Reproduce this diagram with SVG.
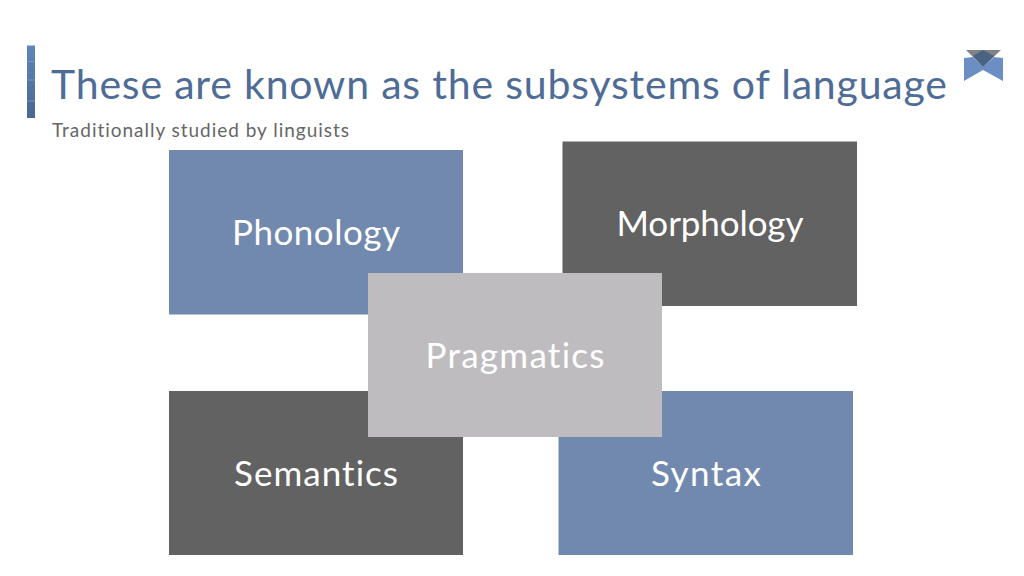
<svg xmlns="http://www.w3.org/2000/svg" width="1024" height="576" viewBox="0 0 1024 576">
<style>
text{font-family:"Lato","Open Sans","Liberation Sans",sans-serif;font-weight:400;font-variant-ligatures:none}
.lbl{font-size:35px;fill:#fff;text-anchor:middle}
.blue{fill:#7189ae}.dark{fill:#626262}.light{fill:#bfbcbf}
</style>
<defs><linearGradient id="bar" x1="0" y1="0" x2="0" y2="1"><stop offset="0" stop-color="#5f86bd"/><stop offset="1" stop-color="#4a6890"/></linearGradient></defs>
<rect width="1024" height="576" fill="#fff"/>
<g id="header">
<rect x="27" y="45.5" width="8" height="72.500" fill="url(#bar)"/>
<path d="M27 61.500h8M27 80h8M27 101h8" stroke="#86a0c4" stroke-width=".7" fill="none"/>
<text x="51" y="98.500" font-size="41" fill="#4e6c96" textLength="896" lengthAdjust="spacing">These are known as the subsystems of language</text>
<text x="52" y="137" font-size="19" fill="#666" textLength="297" lengthAdjust="spacing">Traditionally studied by linguists</text>
</g>
<g id="logo">
<polygon points="964,58 973,57 983,67 994,57 1003,58 1003,81 983,70 964,81" fill="#6b8fc4"/>
<polygon points="966,50 1001,50 983,67" fill="#7f8287"/>
<polygon points="973,56 983,50 994,56 983,67" fill="#4a6283"/>
</g>
<g id="phonology"><rect class="blue" x="169" y="150" width="294" height="164.500"/><text class="lbl" x="316" y="245" textLength="168">Phonology</text></g>
<g id="morphology"><rect class="dark" x="562.500" y="141.500" width="294.500" height="164.500"/><text class="lbl" x="710" y="236" textLength="187">Morphology</text></g>
<g id="semantics"><rect class="dark" x="169" y="391" width="294" height="164"/><text class="lbl" x="316" y="486" textLength="164">Semantics</text></g>
<g id="syntax"><rect class="blue" x="558.500" y="391" width="294.500" height="164"/><text class="lbl" x="706" y="486" textLength="110">Syntax</text></g>
<g id="pragmatics"><rect class="light" x="368" y="273" width="294" height="164"/><text class="lbl" x="515" y="368" textLength="179">Pragmatics</text></g>
<g id="connectors"></g>
</svg>
